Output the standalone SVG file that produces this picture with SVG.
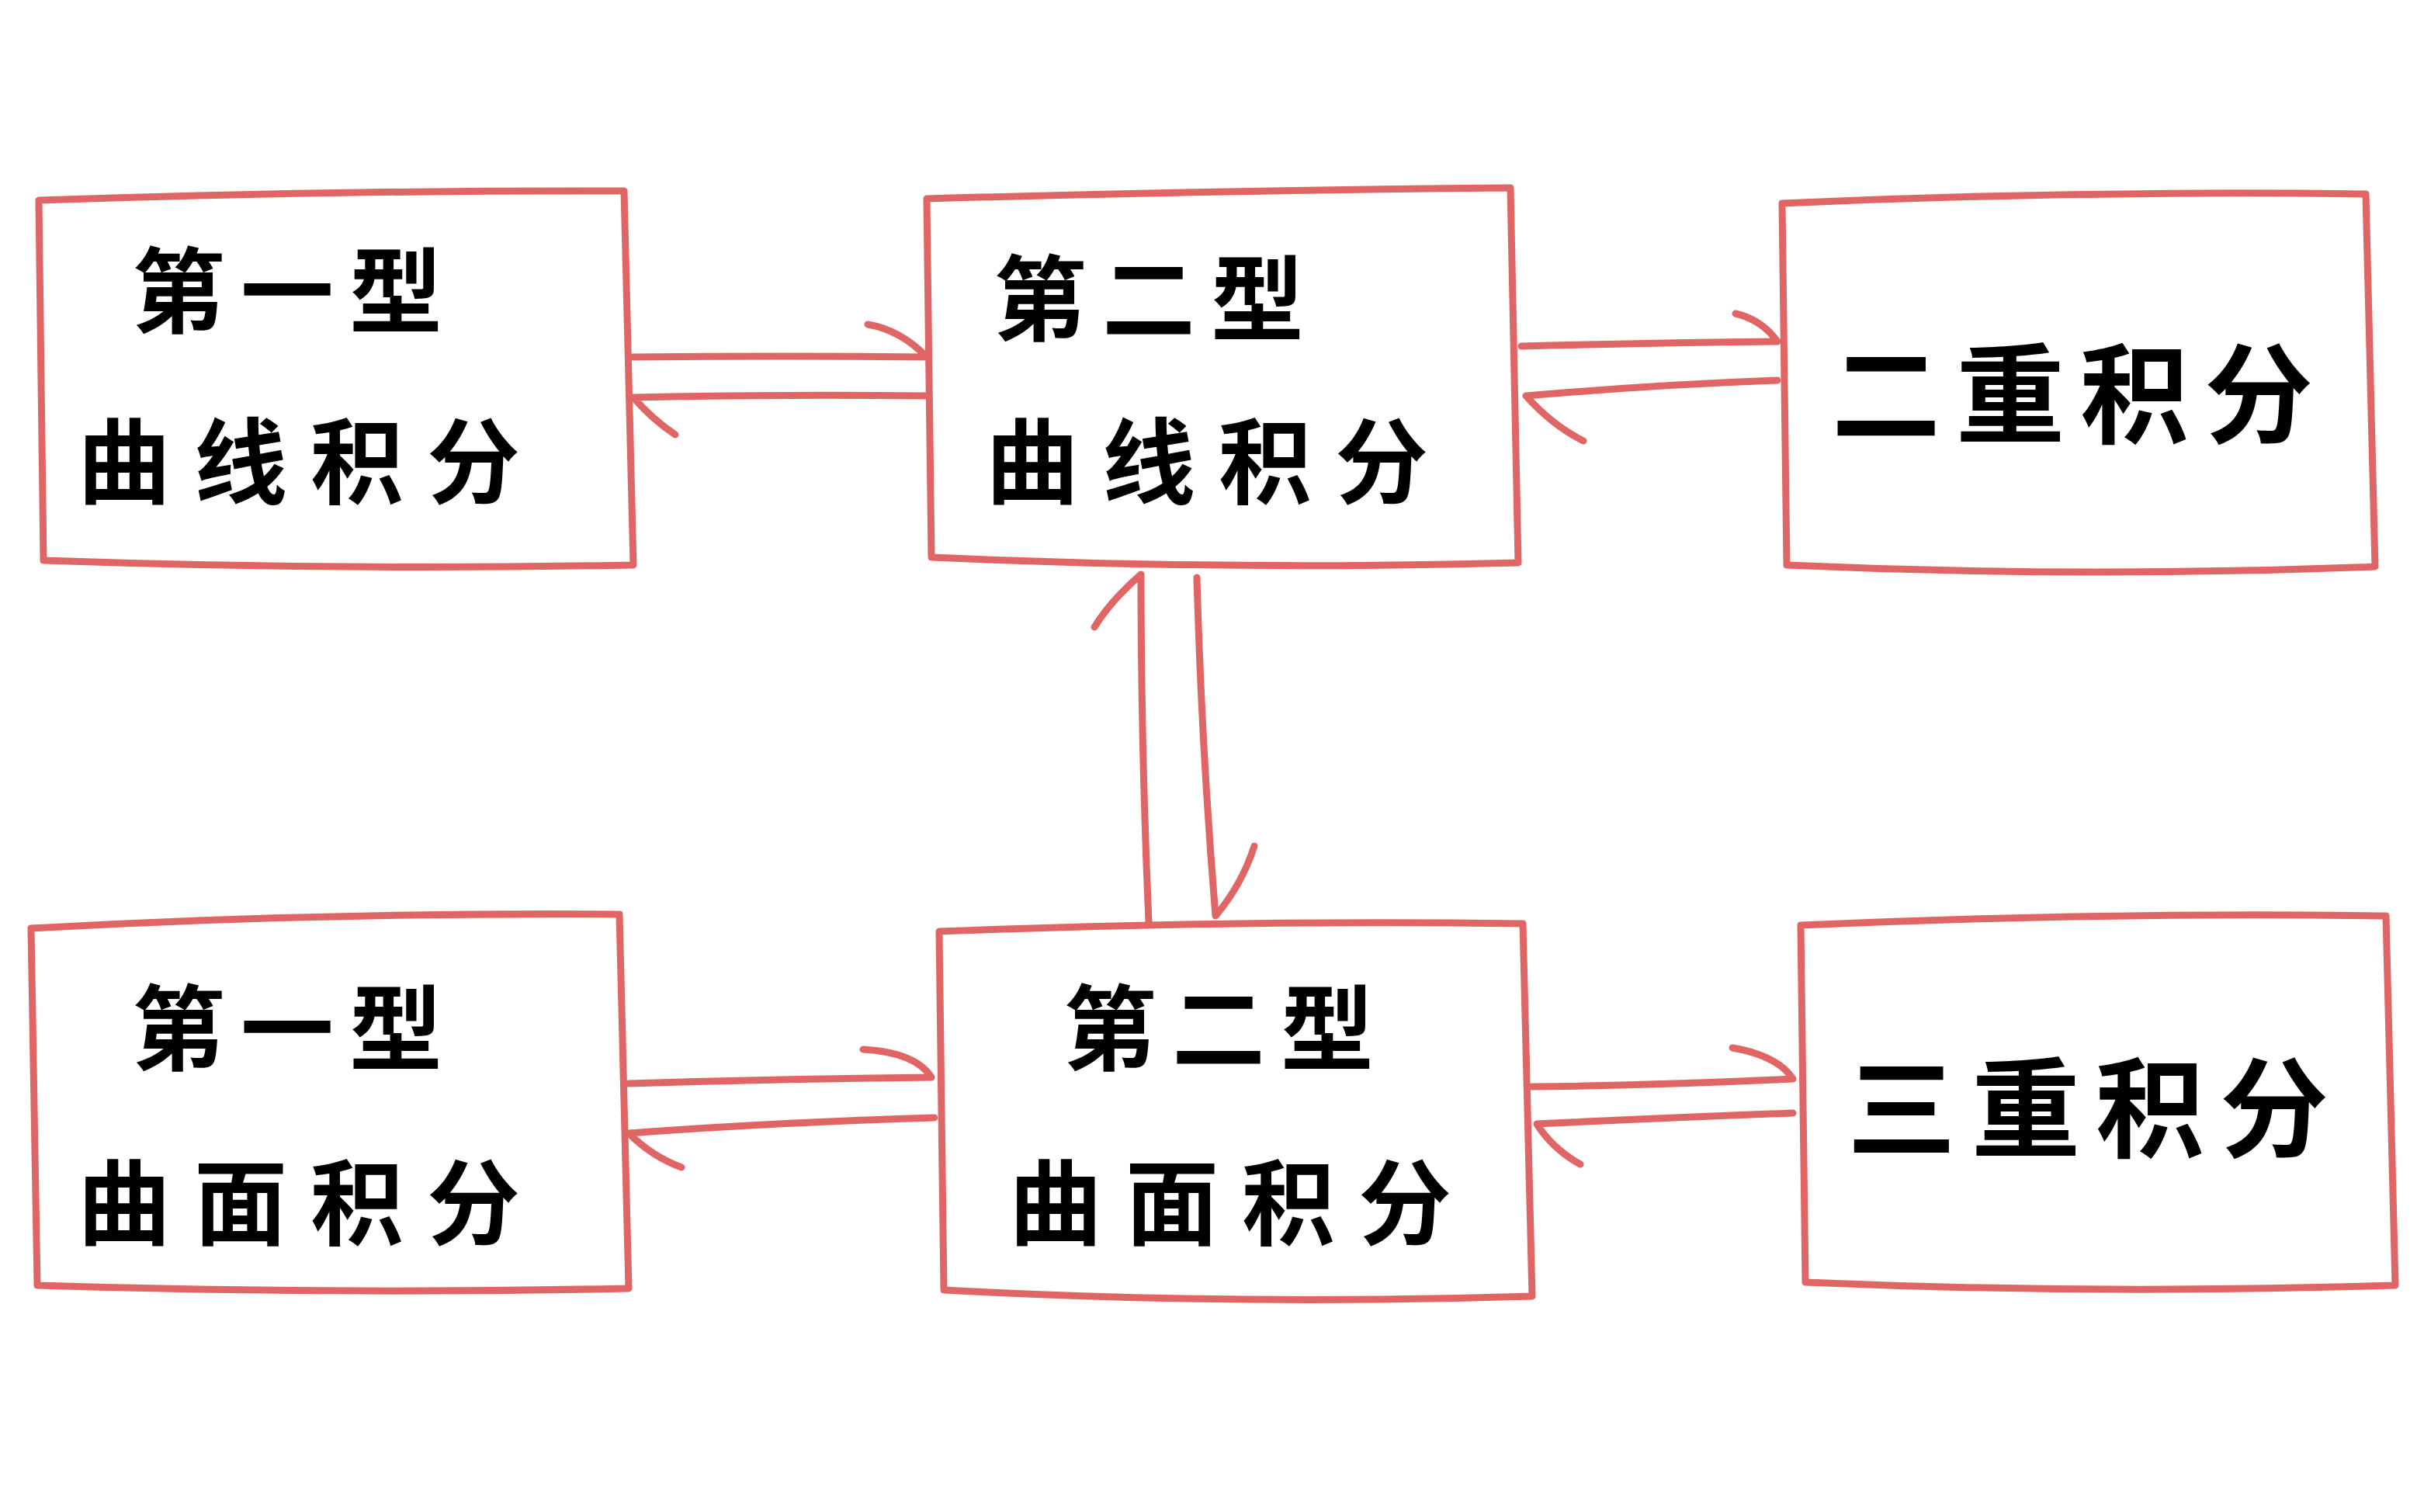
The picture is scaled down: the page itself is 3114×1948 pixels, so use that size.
<svg xmlns="http://www.w3.org/2000/svg" width="3114" height="1948" viewBox="0 0 3114 1948">
<style>
.b{fill:none;stroke:#e06666;stroke-width:9;stroke-linecap:round;stroke-linejoin:round}
.c{fill:none;stroke:#e06666;stroke-width:9;stroke-linecap:round}
.t{font-family:"Noto Sans CJK SC",sans-serif;font-weight:bold;fill:#000;text-anchor:middle}
</style>
<rect width="3114" height="1948" fill="#fff"/>
<g id="n1"><path class="b" d="M50,258 Q430,245 804,246 L816,728 Q430,735 56,722 Z"/>
<text class="t" x="380" y="420" font-size="120" letter-spacing="20">第一型</text>
<text class="t" x="400" y="640" font-size="120" letter-spacing="30">曲线积分</text></g>
<g id="n2"><path class="b" d="M1194,256 Q1580,245 1946,242 L1956,725 Q1580,735 1200,718 Z"/>
<text class="t" x="1490" y="430" font-size="120" letter-spacing="20">第二型</text>
<text class="t" x="1570" y="640" font-size="120" letter-spacing="30">曲线积分</text></g>
<g id="n3"><path class="b" d="M2296,262 Q2680,245 3048,250 L3060,730 Q2680,745 2302,728 Z"/>
<text class="t" x="2680" y="560" font-size="140" letter-spacing="20">二重积分</text></g>
<g id="n4"><path class="b" d="M40,1196 Q420,1175 798,1178 L810,1660 Q420,1668 48,1656 Z"/>
<text class="t" x="380" y="1370" font-size="120" letter-spacing="20">第一型</text>
<text class="t" x="400" y="1595" font-size="120" letter-spacing="30">曲面积分</text></g>
<g id="n5"><path class="b" d="M1210,1200 Q1590,1185 1962,1190 L1974,1670 Q1590,1682 1216,1662 Z"/>
<text class="t" x="1580" y="1370" font-size="120" letter-spacing="20">第二型</text>
<text class="t" x="1600" y="1595" font-size="120" letter-spacing="30">曲面积分</text></g>
<g id="n6"><path class="b" d="M2320,1192 Q2700,1175 3074,1180 L3086,1656 Q2700,1668 2326,1652 Z"/>
<text class="t" x="2700" y="1480" font-size="140" letter-spacing="20">三重积分</text></g>
<g id="edges">
<path class="c" d="M816,460 Q1000,458 1194,460 M1194,460 Q1160,425 1118,418"/>
<path class="c" d="M1194,510 Q1000,508 816,512 M816,512 Q840,540 870,560"/>
<path class="c" d="M1960,446 Q2120,442 2290,440 M2290,440 Q2270,412 2236,404"/>
<path class="c" d="M2290,490 Q2130,496 1966,510 M1966,510 Q2000,548 2040,568"/>
<path class="c" d="M1480,1188 Q1470,960 1470,740 M1470,740 Q1430,775 1410,808"/>
<path class="c" d="M1542,744 Q1548,960 1566,1180 M1566,1180 Q1600,1140 1616,1090"/>
<path class="c" d="M810,1396 Q1000,1390 1200,1388 M1200,1388 Q1180,1356 1112,1352"/>
<path class="c" d="M1204,1440 Q1000,1446 810,1460 M810,1460 Q840,1490 878,1504"/>
<path class="c" d="M1974,1400 Q2150,1398 2310,1390 M2310,1390 Q2290,1360 2232,1350"/>
<path class="c" d="M2310,1434 Q2150,1440 1980,1448 M1980,1448 Q2000,1480 2036,1500"/>
</g>
</svg>
